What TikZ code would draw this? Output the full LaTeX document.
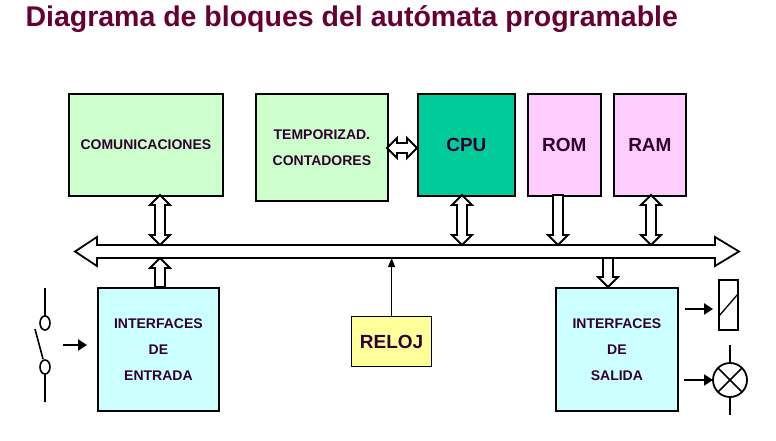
\documentclass[tikz,border=0pt]{standalone}
\usepackage{fontspec}
\setmainfont{Liberation Sans}
\usetikzlibrary{arrows.meta}
\definecolor{titlered}{HTML}{660033}
\definecolor{labeltext}{HTML}{330033}
\definecolor{comgreen}{HTML}{CCFFCC}
\definecolor{cpugreen}{HTML}{00CC99}
\definecolor{mempink}{HTML}{FFCCFF}
\definecolor{iocyan}{HTML}{CCFFFF}
\definecolor{clockyellow}{HTML}{FFFF99}

\tikzset{block/.style =
        {
            draw,
            line width=1.8pt,
            anchor=north west,
            inner sep=0pt,
            text=labeltext,
            align=center,
            font=\bfseries\fontsize{14}{26}\selectfont
        }
}

\tikzset{big block/.style =
        {
            block,
            font=\bfseries\fontsize{19}{21}\selectfont
        }
}

\tikzset{hollow/.style =
        {
            draw,
            line width=1.8pt,
            fill=white,
            line join=miter
        }
}

\tikzset{signal/.style =
        {
            line width=2.4pt,
            -{Triangle[length=9pt,width=11pt]}
        }
}

% double hollow arrow, vertical: x, top, bottom
\newcommand{\dblV}[3]{
    \draw[hollow] (#1,#2) -- ({#1+10},{#2+10}) -- ({#1+5},{#2+10}) -- ({#1+5},{#3-10})
        -- ({#1+10},{#3-10}) -- (#1,#3) -- ({#1-10},{#3-10}) -- ({#1-5},{#3-10})
        -- ({#1-5},{#2+10}) -- ({#1-10},{#2+10}) -- cycle;
}
% single hollow arrow, vertical: x, tail, tip
\newcommand{\sngV}[3]{
    \draw[hollow] ({#1-5},#2) -- ({#1-5},{#3-10*sign(#3-#2)}) -- ({#1-10},{#3-10*sign(#3-#2)})
        -- (#1,#3) -- ({#1+10},{#3-10*sign(#3-#2)}) -- ({#1+5},{#3-10*sign(#3-#2)})
        -- ({#1+5},#2) -- cycle;
}

\begin{document}
\begin{tikzpicture}[x=1pt, y=-1pt]
    \useasboundingbox (0,0) rectangle (776,441);

    \node[anchor=west, text=titlered, font=\bfseries\fontsize{28.5}{30}\selectfont] (title) at (22,19) {Diagrama de bloques del autómata programable};

    % upper row
    \node[block, fill=comgreen, minimum width=154pt, minimum height=102pt] (com) at (68,93) {COMUNICACIONES};
    \node[block, fill=comgreen, minimum width=132pt, minimum height=107pt] (temp) at (255,93) {TEMPORIZAD.\\CONTADORES};
    \node[big block, fill=cpugreen, minimum width=97pt, minimum height=102pt] (cpu) at (417,93) {CPU};
    \node[big block, fill=mempink, minimum width=73pt, minimum height=102pt] (rom) at (527,93) {ROM};
    \node[big block, fill=mempink, minimum width=72pt, minimum height=102pt] (ram) at (613,93) {RAM};

    % lower row
    \node[block, fill=iocyan, minimum width=121pt, minimum height=123pt] (inp) at (97,287) {INTERFACES\\DE\\ENTRADA};
    \node[block, fill=iocyan, minimum width=122pt, minimum height=123pt] (out) at (555,287) {INTERFACES\\DE\\SALIDA};
    \node[big block, fill=clockyellow, minimum width=80pt, minimum height=50pt, line width=1.2pt] (clk) at (351,316) {RELOJ};

    % bus
    \draw[hollow] (75,251.5) -- (97,237) -- (97,245) -- (715,245) -- (715,237) -- (739,251.5)
        -- (715,266) -- (715,258) -- (97,258) -- (97,266) -- cycle;

    \dblV{160}{195}{245}
    \sngV{160}{287}{258}
    \dblV{462}{195}{245}
    \sngV{558}{195}{245}
    \dblV{651}{195}{245}
    \sngV{608}{258}{287}
    \draw[hollow] (387,148) -- (397,138) -- (397,143) -- (407,143) -- (407,138) -- (417,148)
        -- (407,158) -- (407,153) -- (397,153) -- (397,158) -- cycle;

    \coordinate (clkbus) at (clk.north |- 258,258);
    \draw[line width=1pt, -{Triangle[length=9pt,width=7pt]}] (clk.north) -- (clkbus);

    % switch
    \draw[line width=1.6pt] (45,288) -- (45,316) (45,374) -- (45,402) (35,329) -- (43,359);
    \draw[line width=1.6pt] (45,323) ellipse [x radius=5, y radius=7];
    \draw[line width=1.6pt] (45,367) ellipse [x radius=5, y radius=7];
    \coordinate (swout) at (63,345);
    \draw[signal] (swout) -- ++(24,0);

    % relay
    \draw[line width=1.8pt] (719,280) rectangle (738,330);
    \draw[line width=1.3pt] (719,316) -- (738,294);
    \coordinate (relin) at (685,309);
    \draw[signal] (relin) -- ++(28,0);

    % lamp
    \draw[line width=1.6pt] (730,345) -- (730,363) (730,397) -- (730,415);
    \draw[line width=1.8pt] (730,380) ellipse [x radius=17, y radius=17];
    \draw[line width=1.5pt] (718,368) -- (742,392) (718,392) -- (742,368);
    \coordinate (lampin) at (684,380);
    \draw[signal] (lampin) -- ++(29,0);
\end{tikzpicture}
\end{document}
